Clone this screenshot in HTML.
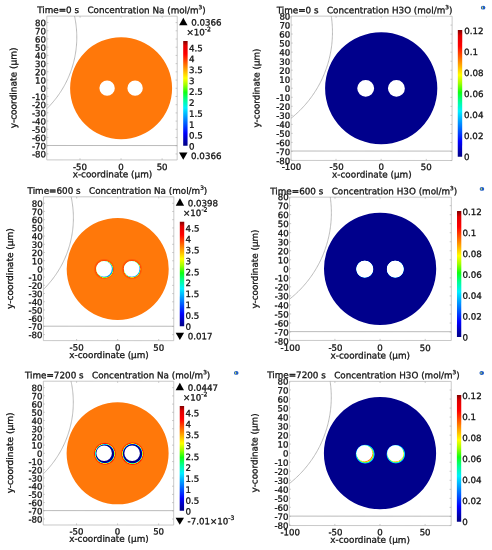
<!DOCTYPE html>
<html lang="en"><head><meta charset="utf-8"><title>Concentration Na and H3O</title>
<style>html,body{margin:0;padding:0;background:#fff}body{width:492px;height:550px;overflow:hidden}svg{display:block;filter:blur(.3px)}</style>
</head><body>
<svg width="492" height="550" viewBox="0 0 492 550" font-family='"DejaVu Sans", "Liberation Sans", sans-serif' fill="#141414"><style>text{stroke:#141414;stroke-width:.3px}</style>
<defs>
<linearGradient id="rb" x1="0" y1="1" x2="0" y2="0">
<stop offset="0.0" stop-color="#000086"/>
<stop offset="0.04" stop-color="#0000a8"/>
<stop offset="0.12" stop-color="#0000ff"/>
<stop offset="0.24" stop-color="#0078ff"/>
<stop offset="0.36" stop-color="#00f0ff"/>
<stop offset="0.44" stop-color="#00ff90"/>
<stop offset="0.51" stop-color="#10ff10"/>
<stop offset="0.58" stop-color="#a0ff00"/>
<stop offset="0.645" stop-color="#ffff00"/>
<stop offset="0.76" stop-color="#ff8000"/>
<stop offset="0.875" stop-color="#ff0000"/>
<stop offset="0.955" stop-color="#e00000"/>
<stop offset="1.0" stop-color="#800000"/>
</linearGradient>
<radialGradient id="g3h" cx="50%" cy="50%" r="50%">
<stop offset="0.0" stop-color="#ff4a00"/>
<stop offset="0.8113" stop-color="#ff4a00"/>
<stop offset="1.0" stop-color="#ff780a"/>
</radialGradient>
<radialGradient id="g3" cx="50%" cy="50%" r="50%">
<stop offset="0.0" stop-color="#0080ff"/>
<stop offset="0.8539" stop-color="#0080ff"/>
<stop offset="0.8876" stop-color="#00e0d0"/>
<stop offset="0.9157" stop-color="#50ff40"/>
<stop offset="0.9494" stop-color="#ffe800"/>
<stop offset="0.9775" stop-color="#ff5000"/>
<stop offset="1.0" stop-color="#ff4a00"/>
</radialGradient>
<radialGradient id="g5a" cx="50%" cy="50%" r="50%">
<stop offset="0.0" stop-color="#00008c"/>
<stop offset="0.7719" stop-color="#00008c"/>
<stop offset="0.7982" stop-color="#0040ff"/>
<stop offset="0.8202" stop-color="#00d8ff"/>
<stop offset="0.8421" stop-color="#50ff50"/>
<stop offset="0.864" stop-color="#ffe800"/>
<stop offset="0.8947" stop-color="#ff1800"/>
<stop offset="0.9386" stop-color="#ff3c00"/>
<stop offset="1.0" stop-color="#ff780a"/>
</radialGradient>
<radialGradient id="g5b" cx="50%" cy="50%" r="50%">
<stop offset="0.0" stop-color="#00008c"/>
<stop offset="0.7778" stop-color="#00008c"/>
<stop offset="0.8034" stop-color="#0040ff"/>
<stop offset="0.8248" stop-color="#00d8ff"/>
<stop offset="0.8462" stop-color="#50ff50"/>
<stop offset="0.8675" stop-color="#ffe800"/>
<stop offset="0.8974" stop-color="#ff1800"/>
<stop offset="0.9402" stop-color="#ff3c00"/>
<stop offset="1.0" stop-color="#ff780a"/>
</radialGradient>
<radialGradient id="g4" cx="50%" cy="50%" r="50%">
<stop offset="0.0" stop-color="#fff"/>
<stop offset="0.8989" stop-color="#ffffff"/>
<stop offset="0.9494" stop-color="#50b8ff"/>
<stop offset="1.0" stop-color="#00008c"/>
</radialGradient>
<radialGradient id="g6" cx="50%" cy="50%" r="50%">
<stop offset="0.0" stop-color="#ff5000"/>
<stop offset="0.7071" stop-color="#ff5000"/>
<stop offset="0.7576" stop-color="#ffa000"/>
<stop offset="0.798" stop-color="#f4ff20"/>
<stop offset="0.8485" stop-color="#40ff60"/>
<stop offset="0.899" stop-color="#00d8ff"/>
<stop offset="0.9444" stop-color="#0058ff"/>
<stop offset="1.0" stop-color="#00008c"/>
</radialGradient>
</defs>
<rect width="492" height="550" fill="#fff"/>
<g transform="rotate(0.03 246 275)">
<g>
<rect x="46.7" y="16.2" width="130.39999999999998" height="143.8" fill="#fff" stroke="#b2b2b2" stroke-width="0.7"/>
<path d="M46.7 153.98h1.6M177.1 153.98h-1.6M46.7 145.77h1.6M177.1 145.77h-1.6M46.7 137.56h1.6M177.1 137.56h-1.6M46.7 129.35h1.6M177.1 129.35h-1.6M46.7 121.14h1.6M177.1 121.14h-1.6M46.7 112.93h1.6M177.1 112.93h-1.6M46.7 104.72h1.6M177.1 104.72h-1.6M46.7 96.51h1.6M177.1 96.51h-1.6M46.7 88.30h1.6M177.1 88.30h-1.6M46.7 80.09h1.6M177.1 80.09h-1.6M46.7 71.88h1.6M177.1 71.88h-1.6M46.7 63.67h1.6M177.1 63.67h-1.6M46.7 55.46h1.6M177.1 55.46h-1.6M46.7 47.25h1.6M177.1 47.25h-1.6M46.7 39.04h1.6M177.1 39.04h-1.6M46.7 30.83h1.6M177.1 30.83h-1.6M46.7 22.62h1.6M177.1 22.62h-1.6M79.95 16.2v1.6M79.95 160v-1.6M121.00 16.2v1.6M121.00 160v-1.6M162.05 16.2v1.6M162.05 160v-1.6" stroke="#b2b2b2" stroke-width="0.7" fill="none"/>
<path d="M74.40 16.20 L74.64 17.36 L74.87 18.52 L75.09 19.67 L75.29 20.83 L75.47 21.99 L75.65 23.15 L75.81 24.31 L75.95 25.46 L76.08 26.62 L76.20 27.78 L76.31 28.94 L76.40 30.10 L76.48 31.26 L76.54 32.41 L76.59 33.57 L76.63 34.73 L76.65 35.89 L76.67 37.05 L76.66 38.20 L76.65 39.36 L76.62 40.52 L76.57 41.68 L76.52 42.84 L76.45 43.99 L76.37 45.15 L76.27 46.31 L76.16 47.47 L76.03 48.63 L75.90 49.78 L75.75 50.94 L75.58 52.10 L75.40 53.26 L75.21 54.42 L75.00 55.57 L74.78 56.73 L74.55 57.89 L74.30 59.05 L74.03 60.21 L73.76 61.37 L73.46 62.52 L73.16 63.68 L72.83 64.84 L72.50 66.00 L72.14 67.16 L71.78 68.31 L71.39 69.47 L70.99 70.63 L70.58 71.79 L70.15 72.95 L69.70 74.10 L69.23 75.26 L68.75 76.42 L68.25 77.58 L67.74 78.74 L67.20 79.89 L66.65 81.05 L66.08 82.21 L65.49 83.37 L64.89 84.53 L64.26 85.69 L63.61 86.84 L62.94 88.00 L62.25 89.16 L61.54 90.32 L60.81 91.48 L60.06 92.63 L59.28 93.79 L58.48 94.95 L57.66 96.11 L56.80 97.27 L55.93 98.42 L55.03 99.58 L54.09 100.74 L53.13 101.90 L52.14 103.06 L51.12 104.21 L50.07 105.37 L48.98 106.53 L47.86 107.69 L46.70 108.85" stroke="#a4a4a4" stroke-width="0.75" fill="none"/>
<path d="M46.7 145.6H177.1" stroke="#a4a4a4" stroke-width="0.75" fill="none"/>
<circle cx="121" cy="88.3" r="51" fill="#ff780a"/>
<circle cx="107.0" cy="88.2" r="7.7" fill="#fff"/>
<circle cx="135.0" cy="88.2" r="7.7" fill="#fff"/>
<g font-size="8.6" text-anchor="end">
<text x="45.900000000000006" y="157.48">-80</text>
<text x="45.900000000000006" y="149.27">-70</text>
<text x="45.900000000000006" y="141.06">-60</text>
<text x="45.900000000000006" y="132.85">-50</text>
<text x="45.900000000000006" y="124.64">-40</text>
<text x="45.900000000000006" y="116.43">-30</text>
<text x="45.900000000000006" y="108.22">-20</text>
<text x="45.900000000000006" y="100.01">-10</text>
<text x="45.900000000000006" y="91.80">0</text>
<text x="45.900000000000006" y="83.59">10</text>
<text x="45.900000000000006" y="75.38">20</text>
<text x="45.900000000000006" y="67.17">30</text>
<text x="45.900000000000006" y="58.96">40</text>
<text x="45.900000000000006" y="50.75">50</text>
<text x="45.900000000000006" y="42.54">60</text>
<text x="45.900000000000006" y="34.33">70</text>
<text x="45.900000000000006" y="26.12">80</text>
</g>
<g font-size="8.6" text-anchor="middle">
<text x="79.95" y="170.0">-50</text>
<text x="121.00" y="170.0">0</text>
<text x="162.05" y="170.0">50</text>
</g>
<text font-size="8.85" text-anchor="middle" x="112.4" y="177.4">x-coordinate (µm)</text>
<text font-size="9.0" text-anchor="middle" transform="translate(16.3 88) rotate(-90)">y-coordinate (µm)</text>
<text font-size="8.8" x="37" y="13.2" xml:space="preserve">Time=0 s   Concentration Na (mol/m<tspan font-size="5.81" dy="-4">3</tspan><tspan dy="4">)</tspan></text>
<rect x="183.1" y="41.0" width="4.400000000000006" height="104.69999999999999" fill="url(#rb)"/>
<g font-size="8.7">
<text x="188.9" y="51.20">4.5</text>
<text x="188.9" y="62.12">4</text>
<text x="188.9" y="73.04">3.5</text>
<text x="188.9" y="83.97">3</text>
<text x="188.9" y="94.89">2.5</text>
<text x="188.9" y="105.81">2</text>
<text x="188.9" y="116.73">1.5</text>
<text x="188.9" y="127.66">1</text>
<text x="188.9" y="138.58">0.5</text>
<text x="188.9" y="149.50">0</text>
</g>
<path d="M179.0 25.200000000000003h8.4l-4.2 -7.5z" fill="#000"/>
<text font-size="8.7" x="191.0" y="25.6">0.0366</text>
<text font-size="8.7" x="186.3" y="35.400000000000006">×10<tspan font-size="6.1" dy="-4.2">-2</tspan></text>
<path d="M179.0 152.6h8.4l-4.2 7.2z" fill="#000"/>
<text font-size="8.7" x="191.0" y="159.1">0.0366</text>
</g>
<g>
<rect x="43.400000000000006" y="196.89999999999998" width="130.39999999999998" height="143.8" fill="#fff" stroke="#b2b2b2" stroke-width="0.7"/>
<path d="M43.400000000000006 334.68h1.6M173.79999999999998 334.68h-1.6M43.400000000000006 326.47h1.6M173.79999999999998 326.47h-1.6M43.400000000000006 318.26h1.6M173.79999999999998 318.26h-1.6M43.400000000000006 310.05h1.6M173.79999999999998 310.05h-1.6M43.400000000000006 301.84h1.6M173.79999999999998 301.84h-1.6M43.400000000000006 293.63h1.6M173.79999999999998 293.63h-1.6M43.400000000000006 285.42h1.6M173.79999999999998 285.42h-1.6M43.400000000000006 277.21h1.6M173.79999999999998 277.21h-1.6M43.400000000000006 269.00h1.6M173.79999999999998 269.00h-1.6M43.400000000000006 260.79h1.6M173.79999999999998 260.79h-1.6M43.400000000000006 252.58h1.6M173.79999999999998 252.58h-1.6M43.400000000000006 244.37h1.6M173.79999999999998 244.37h-1.6M43.400000000000006 236.16h1.6M173.79999999999998 236.16h-1.6M43.400000000000006 227.95h1.6M173.79999999999998 227.95h-1.6M43.400000000000006 219.74h1.6M173.79999999999998 219.74h-1.6M43.400000000000006 211.53h1.6M173.79999999999998 211.53h-1.6M43.400000000000006 203.32h1.6M173.79999999999998 203.32h-1.6M76.65 196.89999999999998v1.6M76.65 340.7v-1.6M117.70 196.89999999999998v1.6M117.70 340.7v-1.6M158.75 196.89999999999998v1.6M158.75 340.7v-1.6" stroke="#b2b2b2" stroke-width="0.7" fill="none"/>
<path d="M71.10 196.90 L71.34 198.06 L71.57 199.22 L71.79 200.37 L71.99 201.53 L72.17 202.69 L72.35 203.85 L72.51 205.01 L72.65 206.16 L72.78 207.32 L72.90 208.48 L73.01 209.64 L73.10 210.80 L73.18 211.96 L73.24 213.11 L73.29 214.27 L73.33 215.43 L73.35 216.59 L73.37 217.75 L73.36 218.90 L73.35 220.06 L73.32 221.22 L73.27 222.38 L73.22 223.54 L73.15 224.69 L73.07 225.85 L72.97 227.01 L72.86 228.17 L72.73 229.33 L72.60 230.48 L72.45 231.64 L72.28 232.80 L72.10 233.96 L71.91 235.12 L71.70 236.27 L71.48 237.43 L71.25 238.59 L71.00 239.75 L70.73 240.91 L70.46 242.07 L70.16 243.22 L69.86 244.38 L69.53 245.54 L69.20 246.70 L68.84 247.86 L68.48 249.01 L68.09 250.17 L67.69 251.33 L67.28 252.49 L66.85 253.65 L66.40 254.80 L65.93 255.96 L65.45 257.12 L64.95 258.28 L64.44 259.44 L63.90 260.59 L63.35 261.75 L62.78 262.91 L62.19 264.07 L61.59 265.23 L60.96 266.39 L60.31 267.54 L59.64 268.70 L58.95 269.86 L58.24 271.02 L57.51 272.18 L56.76 273.33 L55.98 274.49 L55.18 275.65 L54.36 276.81 L53.50 277.97 L52.63 279.12 L51.73 280.28 L50.79 281.44 L49.83 282.60 L48.84 283.76 L47.82 284.91 L46.77 286.07 L45.68 287.23 L44.56 288.39 L43.40 289.55" stroke="#a4a4a4" stroke-width="0.75" fill="none"/>
<path d="M43.400000000000006 326.29999999999995H173.79999999999998" stroke="#a4a4a4" stroke-width="0.75" fill="none"/>
<circle cx="117.7" cy="269.0" r="51" fill="#ff780a"/>
<circle cx="104.20" cy="269.10" r="10.6" fill="url(#g3h)"/>
<circle cx="104.75" cy="269.45" r="8.9" fill="url(#g3)"/>
<circle cx="104.0" cy="268.9" r="7.9" fill="#fff"/>
<circle cx="131.90" cy="269.10" r="10.6" fill="url(#g3h)"/>
<circle cx="132.10" cy="269.35" r="8.75" fill="url(#g3)"/>
<circle cx="131.7" cy="268.9" r="7.9" fill="#fff"/>
<g font-size="8.6" text-anchor="end">
<text x="42.60000000000001" y="338.18">-80</text>
<text x="42.60000000000001" y="329.97">-70</text>
<text x="42.60000000000001" y="321.76">-60</text>
<text x="42.60000000000001" y="313.55">-50</text>
<text x="42.60000000000001" y="305.34">-40</text>
<text x="42.60000000000001" y="297.13">-30</text>
<text x="42.60000000000001" y="288.92">-20</text>
<text x="42.60000000000001" y="280.71">-10</text>
<text x="42.60000000000001" y="272.50">0</text>
<text x="42.60000000000001" y="264.29">10</text>
<text x="42.60000000000001" y="256.08">20</text>
<text x="42.60000000000001" y="247.87">30</text>
<text x="42.60000000000001" y="239.66">40</text>
<text x="42.60000000000001" y="231.45">50</text>
<text x="42.60000000000001" y="223.24">60</text>
<text x="42.60000000000001" y="215.03">70</text>
<text x="42.60000000000001" y="206.82">80</text>
</g>
<g font-size="8.6" text-anchor="middle">
<text x="76.65" y="350.7">-50</text>
<text x="117.70" y="350.7">0</text>
<text x="158.75" y="350.7">50</text>
</g>
<text font-size="8.85" text-anchor="middle" x="109.10000000000001" y="358.1">x-coordinate (µm)</text>
<text font-size="9.0" text-anchor="middle" transform="translate(13.0 268.7) rotate(-90)">y-coordinate (µm)</text>
<text font-size="8.8" x="27.5" y="193.89999999999998" xml:space="preserve">Time=600 s   Concentration Na (mol/m<tspan font-size="5.81" dy="-4">3</tspan><tspan dy="4">)</tspan></text>
<rect x="179.79999999999998" y="221.7" width="4.400000000000006" height="104.69999999999999" fill="url(#rb)"/>
<g font-size="8.7">
<text x="185.6" y="231.50">4.5</text>
<text x="185.6" y="242.42">4</text>
<text x="185.6" y="253.34">3.5</text>
<text x="185.6" y="264.27">3</text>
<text x="185.6" y="275.19">2.5</text>
<text x="185.6" y="286.11">2</text>
<text x="185.6" y="297.03">1.5</text>
<text x="185.6" y="307.96">1</text>
<text x="185.6" y="318.88">0.5</text>
<text x="185.6" y="329.80">0</text>
</g>
<path d="M175.7 205.9h8.4l-4.2 -7.5z" fill="#000"/>
<text font-size="8.7" x="187.7" y="206.3">0.0398</text>
<text font-size="8.7" x="183.0" y="216.1">×10<tspan font-size="6.1" dy="-4.2">-2</tspan></text>
<path d="M175.7 332.8h8.4l-4.2 7.2z" fill="#000"/>
<text font-size="8.7" x="187.7" y="339.3">0.017</text>
</g>
<g>
<rect x="43.400000000000006" y="381.3" width="130.39999999999998" height="143.8" fill="#fff" stroke="#b2b2b2" stroke-width="0.7"/>
<path d="M43.400000000000006 519.08h1.6M173.79999999999998 519.08h-1.6M43.400000000000006 510.87h1.6M173.79999999999998 510.87h-1.6M43.400000000000006 502.66h1.6M173.79999999999998 502.66h-1.6M43.400000000000006 494.45h1.6M173.79999999999998 494.45h-1.6M43.400000000000006 486.24h1.6M173.79999999999998 486.24h-1.6M43.400000000000006 478.03h1.6M173.79999999999998 478.03h-1.6M43.400000000000006 469.82h1.6M173.79999999999998 469.82h-1.6M43.400000000000006 461.61h1.6M173.79999999999998 461.61h-1.6M43.400000000000006 453.40h1.6M173.79999999999998 453.40h-1.6M43.400000000000006 445.19h1.6M173.79999999999998 445.19h-1.6M43.400000000000006 436.98h1.6M173.79999999999998 436.98h-1.6M43.400000000000006 428.77h1.6M173.79999999999998 428.77h-1.6M43.400000000000006 420.56h1.6M173.79999999999998 420.56h-1.6M43.400000000000006 412.35h1.6M173.79999999999998 412.35h-1.6M43.400000000000006 404.14h1.6M173.79999999999998 404.14h-1.6M43.400000000000006 395.93h1.6M173.79999999999998 395.93h-1.6M43.400000000000006 387.72h1.6M173.79999999999998 387.72h-1.6M76.65 381.3v1.6M76.65 525.1v-1.6M117.70 381.3v1.6M117.70 525.1v-1.6M158.75 381.3v1.6M158.75 525.1v-1.6" stroke="#b2b2b2" stroke-width="0.7" fill="none"/>
<path d="M71.10 381.30 L71.34 382.46 L71.57 383.62 L71.79 384.77 L71.99 385.93 L72.17 387.09 L72.35 388.25 L72.51 389.41 L72.65 390.56 L72.78 391.72 L72.90 392.88 L73.01 394.04 L73.10 395.20 L73.18 396.36 L73.24 397.51 L73.29 398.67 L73.33 399.83 L73.35 400.99 L73.37 402.15 L73.36 403.30 L73.35 404.46 L73.32 405.62 L73.27 406.78 L73.22 407.94 L73.15 409.09 L73.07 410.25 L72.97 411.41 L72.86 412.57 L72.73 413.73 L72.60 414.88 L72.45 416.04 L72.28 417.20 L72.10 418.36 L71.91 419.52 L71.70 420.67 L71.48 421.83 L71.25 422.99 L71.00 424.15 L70.73 425.31 L70.46 426.47 L70.16 427.62 L69.86 428.78 L69.53 429.94 L69.20 431.10 L68.84 432.26 L68.48 433.41 L68.09 434.57 L67.69 435.73 L67.28 436.89 L66.85 438.05 L66.40 439.20 L65.93 440.36 L65.45 441.52 L64.95 442.68 L64.44 443.84 L63.90 444.99 L63.35 446.15 L62.78 447.31 L62.19 448.47 L61.59 449.63 L60.96 450.79 L60.31 451.94 L59.64 453.10 L58.95 454.26 L58.24 455.42 L57.51 456.58 L56.76 457.73 L55.98 458.89 L55.18 460.05 L54.36 461.21 L53.50 462.37 L52.63 463.52 L51.73 464.68 L50.79 465.84 L49.83 467.00 L48.84 468.16 L47.82 469.31 L46.77 470.47 L45.68 471.63 L44.56 472.79 L43.40 473.95" stroke="#a4a4a4" stroke-width="0.75" fill="none"/>
<path d="M43.400000000000006 510.70000000000005H173.79999999999998" stroke="#a4a4a4" stroke-width="0.75" fill="none"/>
<circle cx="117.7" cy="453.40000000000003" r="51" fill="#ff780a"/>
<circle cx="104.95" cy="453.80" r="11.4" fill="url(#g5a)"/>
<circle cx="104.2" cy="453.3" r="7.8" fill="#fff"/>
<circle cx="132.60" cy="453.75" r="11.7" fill="url(#g5b)"/>
<circle cx="132.2" cy="453.3" r="7.8" fill="#fff"/>
<g font-size="8.6" text-anchor="end">
<text x="42.60000000000001" y="522.58">-80</text>
<text x="42.60000000000001" y="514.37">-70</text>
<text x="42.60000000000001" y="506.16">-60</text>
<text x="42.60000000000001" y="497.95">-50</text>
<text x="42.60000000000001" y="489.74">-40</text>
<text x="42.60000000000001" y="481.53">-30</text>
<text x="42.60000000000001" y="473.32">-20</text>
<text x="42.60000000000001" y="465.11">-10</text>
<text x="42.60000000000001" y="456.90">0</text>
<text x="42.60000000000001" y="448.69">10</text>
<text x="42.60000000000001" y="440.48">20</text>
<text x="42.60000000000001" y="432.27">30</text>
<text x="42.60000000000001" y="424.06">40</text>
<text x="42.60000000000001" y="415.85">50</text>
<text x="42.60000000000001" y="407.64">60</text>
<text x="42.60000000000001" y="399.43">70</text>
<text x="42.60000000000001" y="391.22">80</text>
</g>
<g font-size="8.6" text-anchor="middle">
<text x="76.65" y="534.5">-50</text>
<text x="117.70" y="534.5">0</text>
<text x="158.75" y="534.5">50</text>
</g>
<text font-size="8.85" text-anchor="middle" x="109.10000000000001" y="541.9">x-coordinate (µm)</text>
<text font-size="9.0" text-anchor="middle" transform="translate(13.0 453.1) rotate(-90)">y-coordinate (µm)</text>
<text font-size="8.8" x="25" y="378.3" xml:space="preserve">Time=7200 s   Concentration Na (mol/m<tspan font-size="5.81" dy="-4">3</tspan><tspan dy="4">)</tspan></text>
<rect x="179.79999999999998" y="406.1" width="4.400000000000006" height="104.69999999999999" fill="url(#rb)"/>
<g font-size="8.7">
<text x="185.6" y="416.30">4.5</text>
<text x="185.6" y="427.22">4</text>
<text x="185.6" y="438.14">3.5</text>
<text x="185.6" y="449.07">3</text>
<text x="185.6" y="459.99">2.5</text>
<text x="185.6" y="470.91">2</text>
<text x="185.6" y="481.83">1.5</text>
<text x="185.6" y="492.76">1</text>
<text x="185.6" y="503.68">0.5</text>
<text x="185.6" y="514.60">0</text>
</g>
<path d="M175.7 390.3h8.4l-4.2 -7.5z" fill="#000"/>
<text font-size="8.7" x="187.7" y="390.70000000000005">0.0447</text>
<text font-size="8.7" x="183.0" y="400.50000000000006">×10<tspan font-size="6.1" dy="-4.2">-2</tspan></text>
<path d="M175.7 517.7h8.4l-4.2 7.2z" fill="#000"/>
<text font-size="8.7" x="187.7" y="524.2">-7.01×10<tspan font-size="6.1" dy="-4.2">-3</tspan></text>
<ellipse cx="236.3" cy="372.9" rx="2.3" ry="1.9" fill="#1f5cc4"/><rect x="235.10" y="371.80" width="1.1" height="2.1" rx="0.4" fill="#c8d860"/>
</g>
<g>
<rect x="291" y="16.1" width="161" height="144.3" fill="#fff" stroke="#b2b2b2" stroke-width="0.7"/>
<path d="M291 160.44h1.6M452 160.44h-1.6M291 151.41h1.6M452 151.41h-1.6M291 142.38h1.6M452 142.38h-1.6M291 133.35h1.6M452 133.35h-1.6M291 124.32h1.6M452 124.32h-1.6M291 115.29h1.6M452 115.29h-1.6M291 106.26h1.6M452 106.26h-1.6M291 97.23h1.6M452 97.23h-1.6M291 88.20h1.6M452 88.20h-1.6M291 79.17h1.6M452 79.17h-1.6M291 70.14h1.6M452 70.14h-1.6M291 61.11h1.6M452 61.11h-1.6M291 52.08h1.6M452 52.08h-1.6M291 43.05h1.6M452 43.05h-1.6M291 34.02h1.6M452 34.02h-1.6M291 24.99h1.6M452 24.99h-1.6M290.80 16.1v1.6M290.80 160.4v-1.6M335.95 16.1v1.6M335.95 160.4v-1.6M381.10 16.1v1.6M381.10 160.4v-1.6M426.25 16.1v1.6M426.25 160.4v-1.6" stroke="#b2b2b2" stroke-width="0.7" fill="none"/>
<path d="M331.15 16.10 L331.33 17.38 L331.50 18.65 L331.65 19.93 L331.79 21.21 L331.91 22.48 L332.01 23.76 L332.10 25.04 L332.18 26.31 L332.24 27.59 L332.29 28.87 L332.32 30.14 L332.34 31.42 L332.34 32.70 L332.32 33.97 L332.30 35.25 L332.25 36.53 L332.20 37.80 L332.12 39.08 L332.04 40.36 L331.93 41.63 L331.82 42.91 L331.69 44.19 L331.54 45.46 L331.38 46.74 L331.20 48.02 L331.01 49.29 L330.80 50.57 L330.57 51.85 L330.34 53.12 L330.08 54.40 L329.81 55.68 L329.52 56.95 L329.22 58.23 L328.90 59.51 L328.57 60.78 L328.22 62.06 L327.85 63.34 L327.47 64.61 L327.06 65.89 L326.65 67.17 L326.21 68.44 L325.76 69.72 L325.29 71.00 L324.80 72.27 L324.29 73.55 L323.76 74.83 L323.22 76.10 L322.65 77.38 L322.07 78.66 L321.47 79.93 L320.84 81.21 L320.20 82.49 L319.53 83.76 L318.85 85.04 L318.14 86.32 L317.41 87.59 L316.65 88.87 L315.88 90.15 L315.07 91.42 L314.25 92.70 L313.40 93.98 L312.52 95.25 L311.61 96.53 L310.68 97.81 L309.72 99.08 L308.73 100.36 L307.71 101.64 L306.66 102.91 L305.57 104.19 L304.46 105.47 L303.30 106.74 L302.11 108.02 L300.88 109.30 L299.61 110.57 L298.30 111.85 L296.94 113.13 L295.53 114.40 L294.08 115.68 L292.57 116.96 L291.00 118.23" stroke="#a4a4a4" stroke-width="0.75" fill="none"/>
<path d="M291 151.0H452" stroke="#a4a4a4" stroke-width="0.75" fill="none"/>
<circle cx="381.1" cy="88.2" r="56.1" fill="#00008c"/>
<circle cx="365.6" cy="88.3" r="8.45" fill="#fff"/>
<circle cx="396.3" cy="88.3" r="8.45" fill="#fff"/>
<g font-size="8.6" text-anchor="end">
<text x="290.2" y="163.94">-80</text>
<text x="290.2" y="154.91">-70</text>
<text x="290.2" y="145.88">-60</text>
<text x="290.2" y="136.85">-50</text>
<text x="290.2" y="127.82">-40</text>
<text x="290.2" y="118.79">-30</text>
<text x="290.2" y="109.76">-20</text>
<text x="290.2" y="100.73">-10</text>
<text x="290.2" y="91.70">0</text>
<text x="290.2" y="82.67">10</text>
<text x="290.2" y="73.64">20</text>
<text x="290.2" y="64.61">30</text>
<text x="290.2" y="55.58">40</text>
<text x="290.2" y="46.55">50</text>
<text x="290.2" y="37.52">60</text>
<text x="290.2" y="28.49">70</text>
<text x="290.2" y="19.46">80</text>
</g>
<g font-size="8.6" text-anchor="middle">
<text x="291.40" y="169.8">-100</text>
<text x="336.55" y="169.8">-50</text>
<text x="381.10" y="169.8">0</text>
<text x="426.25" y="169.8">50</text>
</g>
<text font-size="8.85" text-anchor="middle" x="371.8" y="177.4">x-coordinate (µm)</text>
<text font-size="8.8" text-anchor="middle" transform="translate(259.3 88) rotate(-90)">y-coordinate (µm)</text>
<text font-size="8.8" x="276.5" y="13.2" xml:space="preserve">Time=0 s   Concentration H3O (mol/m<tspan font-size="5.81" dy="-4">3</tspan><tspan dy="4">)</tspan></text>
<rect x="457.7" y="30" width="4.400000000000034" height="126.69999999999999" fill="url(#rb)"/>
<g font-size="8.7">
<text x="464" y="34.00">0.12</text>
<text x="464" y="55.00">0.1</text>
<text x="464" y="76.00">0.08</text>
<text x="464" y="97.00">0.06</text>
<text x="464" y="118.00">0.04</text>
<text x="464" y="139.00">0.02</text>
<text x="464" y="160.00">0</text>
</g>
<ellipse cx="483.0" cy="7.6" rx="2.3" ry="1.9" fill="#1f5cc4"/><rect x="481.80" y="6.50" width="1.1" height="2.1" rx="0.4" fill="#c8d860"/>
</g>
<g>
<rect x="289.5" y="197.1" width="161.8" height="143.29999999999998" fill="#fff" stroke="#b2b2b2" stroke-width="0.7"/>
<path d="M289.5 331.96h1.6M451.3 331.96h-1.6M289.5 322.93h1.6M451.3 322.93h-1.6M289.5 313.90h1.6M451.3 313.90h-1.6M289.5 304.87h1.6M451.3 304.87h-1.6M289.5 295.84h1.6M451.3 295.84h-1.6M289.5 286.81h1.6M451.3 286.81h-1.6M289.5 277.78h1.6M451.3 277.78h-1.6M289.5 268.75h1.6M451.3 268.75h-1.6M289.5 259.72h1.6M451.3 259.72h-1.6M289.5 250.69h1.6M451.3 250.69h-1.6M289.5 241.66h1.6M451.3 241.66h-1.6M289.5 232.63h1.6M451.3 232.63h-1.6M289.5 223.60h1.6M451.3 223.60h-1.6M289.5 214.57h1.6M451.3 214.57h-1.6M289.5 205.54h1.6M451.3 205.54h-1.6M289.80 197.1v1.6M289.80 340.4v-1.6M334.95 197.1v1.6M334.95 340.4v-1.6M380.10 197.1v1.6M380.10 340.4v-1.6M425.25 197.1v1.6M425.25 340.4v-1.6" stroke="#b2b2b2" stroke-width="0.7" fill="none"/>
<path d="M330.22 197.10 L330.39 198.38 L330.55 199.65 L330.70 200.93 L330.83 202.20 L330.95 203.48 L331.05 204.76 L331.13 206.03 L331.20 207.31 L331.26 208.58 L331.30 209.86 L331.33 211.14 L331.34 212.41 L331.33 213.69 L331.32 214.96 L331.28 216.24 L331.24 217.52 L331.17 218.79 L331.10 220.07 L331.00 221.34 L330.90 222.62 L330.77 223.90 L330.64 225.17 L330.48 226.45 L330.32 227.72 L330.13 229.00 L329.94 230.28 L329.72 231.55 L329.50 232.83 L329.25 234.10 L328.99 235.38 L328.72 236.66 L328.42 237.93 L328.12 239.21 L327.79 240.48 L327.45 241.76 L327.10 243.04 L326.72 244.31 L326.33 245.59 L325.93 246.86 L325.50 248.14 L325.06 249.42 L324.60 250.69 L324.13 251.97 L323.63 253.24 L323.12 254.52 L322.59 255.80 L322.03 257.07 L321.46 258.35 L320.87 259.62 L320.27 260.90 L319.64 262.18 L318.98 263.45 L318.31 264.73 L317.62 266.00 L316.90 267.28 L316.17 268.56 L315.40 269.83 L314.62 271.11 L313.81 272.38 L312.98 273.66 L312.12 274.94 L311.23 276.21 L310.32 277.49 L309.38 278.76 L308.41 280.04 L307.41 281.32 L306.38 282.59 L305.32 283.87 L304.22 285.14 L303.09 286.42 L301.93 287.70 L300.73 288.97 L299.48 290.25 L298.20 291.52 L296.87 292.80 L295.50 294.08 L294.08 295.35 L292.61 296.63 L291.08 297.90 L289.50 299.18" stroke="#a4a4a4" stroke-width="0.75" fill="none"/>
<path d="M289.5 331.6H451.3" stroke="#a4a4a4" stroke-width="0.75" fill="none"/>
<circle cx="380.1" cy="268.75" r="56.1" fill="#00008c"/>
<circle cx="364.80" cy="269.10" r="8.9" fill="url(#g4)"/>
<circle cx="364.6" cy="268.9" r="8.2" fill="#fff"/>
<circle cx="395.30" cy="269.10" r="8.9" fill="url(#g4)"/>
<circle cx="395.1" cy="268.9" r="8.2" fill="#fff"/>
<g font-size="8.6" text-anchor="end">
<text x="288.7" y="344.49">-80</text>
<text x="288.7" y="335.46">-70</text>
<text x="288.7" y="326.43">-60</text>
<text x="288.7" y="317.40">-50</text>
<text x="288.7" y="308.37">-40</text>
<text x="288.7" y="299.34">-30</text>
<text x="288.7" y="290.31">-20</text>
<text x="288.7" y="281.28">-10</text>
<text x="288.7" y="272.25">0</text>
<text x="288.7" y="263.22">10</text>
<text x="288.7" y="254.19">20</text>
<text x="288.7" y="245.16">30</text>
<text x="288.7" y="236.13">40</text>
<text x="288.7" y="227.10">50</text>
<text x="288.7" y="218.07">60</text>
<text x="288.7" y="209.04">70</text>
<text x="288.7" y="200.01">80</text>
</g>
<g font-size="8.6" text-anchor="middle">
<text x="290.40" y="350.8">-100</text>
<text x="335.55" y="350.8">-50</text>
<text x="380.10" y="350.8">0</text>
<text x="425.25" y="350.8">50</text>
</g>
<text font-size="8.85" text-anchor="middle" x="370.3" y="358.4">x-coordinate (µm)</text>
<text font-size="8.8" text-anchor="middle" transform="translate(257.8 269.0) rotate(-90)">y-coordinate (µm)</text>
<text font-size="8.8" x="270.2" y="194.2" xml:space="preserve">Time=600 s   Concentration H3O (mol/m<tspan font-size="5.81" dy="-4">3</tspan><tspan dy="4">)</tspan></text>
<rect x="457.0" y="211.0" width="4.300000000000011" height="126.0" fill="url(#rb)"/>
<g font-size="8.7">
<text x="462.5" y="215.00">0.12</text>
<text x="462.5" y="235.90">0.1</text>
<text x="462.5" y="256.80">0.08</text>
<text x="462.5" y="277.70">0.06</text>
<text x="462.5" y="298.60">0.04</text>
<text x="462.5" y="319.50">0.02</text>
<text x="462.5" y="340.40">0</text>
</g>
<ellipse cx="481.9" cy="188.8" rx="2.3" ry="1.9" fill="#1f5cc4"/><rect x="480.70" y="187.70" width="1.1" height="2.1" rx="0.4" fill="#c8d860"/>
</g>
<g>
<rect x="289.4" y="381.3" width="161.90000000000003" height="144.2" fill="#fff" stroke="#b2b2b2" stroke-width="0.7"/>
<path d="M289.4 525.34h1.6M451.3 525.34h-1.6M289.4 516.31h1.6M451.3 516.31h-1.6M289.4 507.28h1.6M451.3 507.28h-1.6M289.4 498.25h1.6M451.3 498.25h-1.6M289.4 489.22h1.6M451.3 489.22h-1.6M289.4 480.19h1.6M451.3 480.19h-1.6M289.4 471.16h1.6M451.3 471.16h-1.6M289.4 462.13h1.6M451.3 462.13h-1.6M289.4 453.10h1.6M451.3 453.10h-1.6M289.4 444.07h1.6M451.3 444.07h-1.6M289.4 435.04h1.6M451.3 435.04h-1.6M289.4 426.01h1.6M451.3 426.01h-1.6M289.4 416.98h1.6M451.3 416.98h-1.6M289.4 407.95h1.6M451.3 407.95h-1.6M289.4 398.92h1.6M451.3 398.92h-1.6M289.4 389.89h1.6M451.3 389.89h-1.6M289.80 381.3v1.6M289.80 525.5v-1.6M334.95 381.3v1.6M334.95 525.5v-1.6M380.10 381.3v1.6M380.10 525.5v-1.6M425.25 381.3v1.6M425.25 525.5v-1.6" stroke="#b2b2b2" stroke-width="0.7" fill="none"/>
<path d="M330.20 381.30 L330.37 382.58 L330.54 383.86 L330.68 385.14 L330.82 386.42 L330.93 387.69 L331.04 388.97 L331.12 390.25 L331.20 391.53 L331.25 392.81 L331.30 394.09 L331.32 395.37 L331.34 396.65 L331.34 397.93 L331.32 399.20 L331.29 400.48 L331.24 401.76 L331.18 403.04 L331.10 404.32 L331.01 405.60 L330.90 406.88 L330.78 408.16 L330.65 409.44 L330.50 410.71 L330.33 411.99 L330.15 413.27 L329.95 414.55 L329.74 415.83 L329.51 417.11 L329.26 418.39 L329.00 419.67 L328.73 420.94 L328.44 422.22 L328.13 423.50 L327.81 424.78 L327.47 426.06 L327.11 427.34 L326.74 428.62 L326.35 429.90 L325.94 431.18 L325.52 432.45 L325.07 433.73 L324.61 435.01 L324.14 436.29 L323.64 437.57 L323.13 438.85 L322.59 440.13 L322.04 441.41 L321.47 442.69 L320.88 443.96 L320.27 445.24 L319.64 446.52 L318.98 447.80 L318.31 449.08 L317.62 450.36 L316.90 451.64 L316.16 452.92 L315.40 454.20 L314.61 455.47 L313.80 456.75 L312.96 458.03 L312.10 459.31 L311.21 460.59 L310.30 461.87 L309.35 463.15 L308.38 464.43 L307.38 465.71 L306.35 466.98 L305.28 468.26 L304.18 469.54 L303.05 470.82 L301.88 472.10 L300.67 473.38 L299.43 474.66 L298.14 475.94 L296.80 477.22 L295.43 478.49 L294.00 479.77 L292.52 481.05 L290.99 482.33 L289.40 483.61" stroke="#a4a4a4" stroke-width="0.75" fill="none"/>
<path d="M289.4 516.1H451.3" stroke="#a4a4a4" stroke-width="0.75" fill="none"/>
<circle cx="380.1" cy="453.1" r="56.1" fill="#00008c"/>
<circle cx="365.30" cy="454.10" r="9.9" fill="url(#g6)"/>
<circle cx="364.5" cy="453.3" r="8.1" fill="#fff"/>
<circle cx="395.90" cy="454.10" r="9.7" fill="url(#g6)"/>
<circle cx="395.4" cy="453.3" r="8.2" fill="#fff"/>
<g font-size="8.6" text-anchor="end">
<text x="288.59999999999997" y="528.84">-80</text>
<text x="288.59999999999997" y="519.81">-70</text>
<text x="288.59999999999997" y="510.78">-60</text>
<text x="288.59999999999997" y="501.75">-50</text>
<text x="288.59999999999997" y="492.72">-40</text>
<text x="288.59999999999997" y="483.69">-30</text>
<text x="288.59999999999997" y="474.66">-20</text>
<text x="288.59999999999997" y="465.63">-10</text>
<text x="288.59999999999997" y="456.60">0</text>
<text x="288.59999999999997" y="447.57">10</text>
<text x="288.59999999999997" y="438.54">20</text>
<text x="288.59999999999997" y="429.51">30</text>
<text x="288.59999999999997" y="420.48">40</text>
<text x="288.59999999999997" y="411.45">50</text>
<text x="288.59999999999997" y="402.42">60</text>
<text x="288.59999999999997" y="393.39">70</text>
<text x="288.59999999999997" y="384.36">80</text>
</g>
<g font-size="8.6" text-anchor="middle">
<text x="290.40" y="535.2">-100</text>
<text x="335.55" y="535.2">-50</text>
<text x="380.10" y="535.2">0</text>
<text x="425.25" y="535.2">50</text>
</g>
<text font-size="8.85" text-anchor="middle" x="370.2" y="542.8">x-coordinate (µm)</text>
<text font-size="8.8" text-anchor="middle" transform="translate(257.7 452.9) rotate(-90)">y-coordinate (µm)</text>
<text font-size="8.8" x="267.2" y="378.09999999999997" xml:space="preserve">Time=7200 s   Concentration H3O (mol/m<tspan font-size="5.81" dy="-4">3</tspan><tspan dy="4">)</tspan></text>
<rect x="457.0" y="394.9" width="4.300000000000011" height="126.70000000000005" fill="url(#rb)"/>
<g font-size="8.7">
<text x="462.4" y="398.90">0.12</text>
<text x="462.4" y="419.90">0.1</text>
<text x="462.4" y="440.90">0.08</text>
<text x="462.4" y="461.90">0.06</text>
<text x="462.4" y="482.90">0.04</text>
<text x="462.4" y="503.90">0.02</text>
<text x="462.4" y="524.90">0</text>
</g>
<ellipse cx="481.8" cy="372.9" rx="2.3" ry="1.9" fill="#1f5cc4"/><rect x="480.60" y="371.80" width="1.1" height="2.1" rx="0.4" fill="#c8d860"/>
</g>
</g>
</svg>
</body></html>
